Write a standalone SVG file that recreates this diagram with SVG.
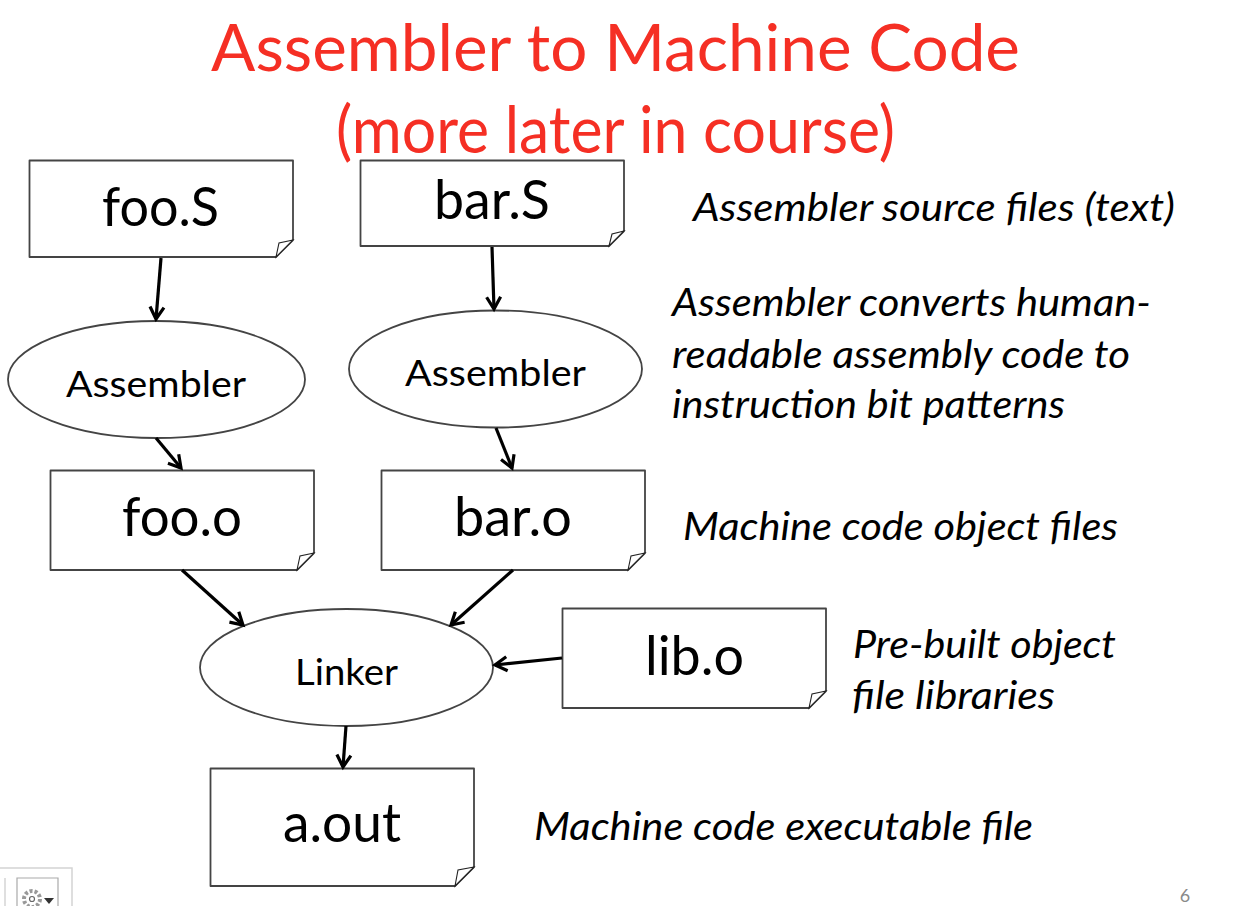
<svg xmlns="http://www.w3.org/2000/svg" width="1248" height="906" viewBox="0 0 1248 906">
<style>
text{font-family:Lato,"Open Sans","Liberation Sans",sans-serif;fill:#000}
.t{fill:#f52f24;font-size:65px}
.n{font-size:54px}
.e{font-size:37px}
.c{font-size:39px;font-style:italic}
.b{fill:#fff;stroke:#444;stroke-width:1.8;stroke-linejoin:round}
.f{fill:#fff;stroke:#222;stroke-width:1.1}
.a{fill:none;stroke:#000;stroke-width:3.200;marker-end:url(#h)}
.u{fill:none;stroke:#d4d4d4;stroke-width:1.5}
</style>
<defs>
<marker id="h" markerUnits="userSpaceOnUse" markerWidth="20" markerHeight="20" refX="14" refY="10" orient="auto"><path d="M2 3L14 10L2 17" fill="none" stroke="#000" stroke-width="3.200"/></marker>
</defs>
<rect width="1248" height="906" fill="#fff"/>
<g id="title">
<text class="t" x="211" y="71" textLength="809" lengthAdjust="spacingAndGlyphs">Assembler to Machine Code</text>
<text class="t" x="336" y="153" textLength="559" lengthAdjust="spacingAndGlyphs">(more later in course)</text>
</g>
<g id="foo-s"><path class="b" d="M29.500 160.500H293V240L276 257H29.500Z"/><path class="f" d="M293 240L279 243L276 257Z"/><text class="n" x="102" y="226" textLength="117" lengthAdjust="spacingAndGlyphs">foo.S</text></g>
<g id="bar-s"><path class="b" d="M360.500 160.500H624V231L609 246H360.500Z"/><path class="f" d="M624 231L612 234L609 246Z"/><text class="n" x="434" y="219" textLength="116" lengthAdjust="spacingAndGlyphs">bar.S</text></g>
<g id="asm1"><ellipse class="b" cx="156.500" cy="379.500" rx="148.500" ry="58.500"/><text class="e" x="66" y="397" textLength="180" lengthAdjust="spacingAndGlyphs">Assembler</text></g>
<g id="asm2"><ellipse class="b" cx="495.500" cy="369" rx="146.500" ry="58.500"/><text class="e" x="405" y="386" textLength="181" lengthAdjust="spacingAndGlyphs">Assembler</text></g>
<g id="foo-o"><path class="b" d="M50.500 470.500H314V553L297 570H50.500Z"/><path class="f" d="M314 553L300 556L297 570Z"/><text class="n" x="122" y="536" textLength="120" lengthAdjust="spacingAndGlyphs">foo.o</text></g>
<g id="bar-o"><path class="b" d="M381.500 470.500H645V553L628 570H381.500Z"/><path class="f" d="M645 553L631 556L628 570Z"/><text class="n" x="454" y="536" textLength="118" lengthAdjust="spacingAndGlyphs">bar.o</text></g>
<g id="linker"><ellipse class="b" cx="346.500" cy="667.500" rx="146.500" ry="58.500"/><text class="e" x="295" y="685" textLength="103" lengthAdjust="spacingAndGlyphs">Linker</text></g>
<g id="lib-o"><path class="b" d="M562.500 608.500H826V691L809 708H562.500Z"/><path class="f" d="M826 691L812 694L809 708Z"/><text class="n" x="645" y="675" textLength="99" lengthAdjust="spacingAndGlyphs">lib.o</text></g>
<g id="a-out"><path class="b" d="M210.500 768.500H474V867L455 886H210.500Z"/><path class="f" d="M474 867L458 870L455 886Z"/><text class="n" x="283" y="842" textLength="118" lengthAdjust="spacingAndGlyphs">a.out</text></g>
<g id="connectors">
<path class="a" d="M161 258L156 319"/>
<path class="a" d="M492 247L494 309"/>
<path class="a" d="M156 438L181 468"/>
<path class="a" d="M496 428L512 468"/>
<path class="a" d="M182 570L243 625"/>
<path class="a" d="M513 570L451 625"/>
<path class="a" d="M562 658L495 665"/>
<path class="a" d="M346 726L343 767"/>
</g>
<g id="captions">
<text class="c" x="693" y="221" textLength="482" lengthAdjust="spacingAndGlyphs">Assembler source files (text)</text>
<text class="c" x="672" y="316" textLength="479" lengthAdjust="spacingAndGlyphs">Assembler converts human-</text>
<text class="c" x="672" y="368" textLength="458" lengthAdjust="spacingAndGlyphs">readable assembly code to</text>
<text class="c" x="672" y="418" textLength="393" lengthAdjust="spacingAndGlyphs">instruction bit patterns</text>
<text class="c" x="683" y="540" textLength="435" lengthAdjust="spacingAndGlyphs">Machine code object files</text>
<text class="c" x="853" y="658" textLength="263" lengthAdjust="spacingAndGlyphs">Pre-built object</text>
<text class="c" x="852" y="709" textLength="203" lengthAdjust="spacingAndGlyphs">file libraries</text>
<text class="c" x="534" y="840" textLength="499" lengthAdjust="spacingAndGlyphs">Machine code executable file</text>
<text x="1185" y="902" font-size="18" text-anchor="middle" style="fill:#8a8a8a">6</text>
</g>
<g id="toolbar">
<path class="u" d="M0 868H72V906"/>
<path class="u" d="M5 878V906"/>
<path d="M17 906V878H58V906" fill="none" stroke="#aaa" stroke-width="1.2"/>
<circle cx="32" cy="899" r="8" fill="none" stroke="#999" stroke-width="4" stroke-dasharray="3 2"/>
<circle cx="32" cy="899" r="2.500" fill="none" stroke="#666" stroke-width="1.2"/>
<path d="M44 898H54L49 904Z" fill="#333"/>
</g>
</svg>
